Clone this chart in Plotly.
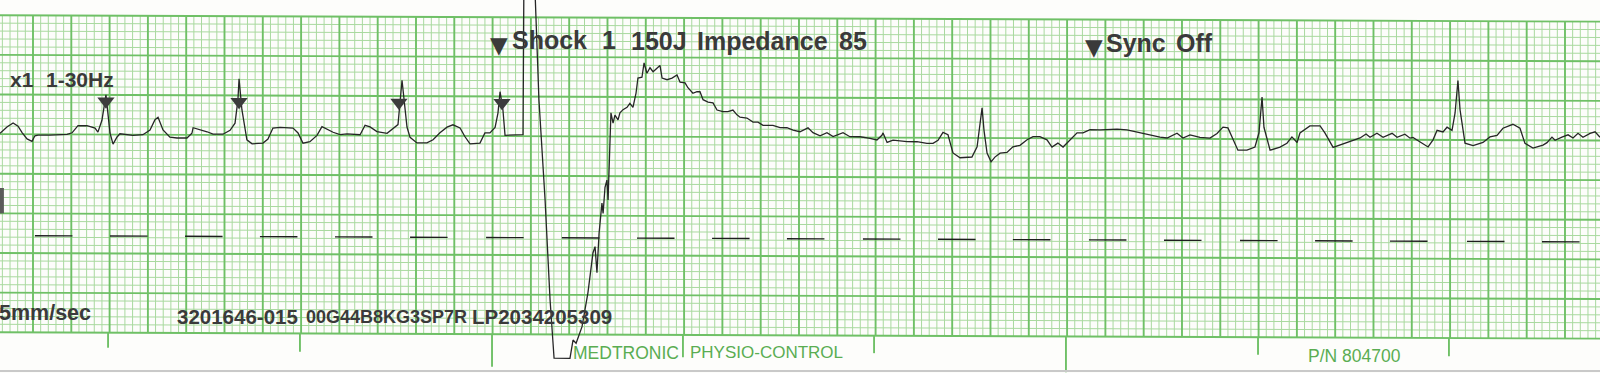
import plotly.graph_objects as go

W, H = 1600, 373

# ---------------- data read from the strip ----------------
# ECG samples (time in s at 25 mm/s, amplitude in mV, 10 mm/mV, baseline = 0)
ecg_pre_shock = [
    (-0.172, 0.01), (-0.136, 0.09), (-0.104, 0.14), (-0.078, 0.10), (-0.057, 0.02),
    (-0.031, -0.06), (-0.005, -0.09), (0.010, -0.02), (0.026, -0.01), (0.089, -0.01),
    (0.178, 0.00), (0.204, 0.02), (0.235, 0.11), (0.282, 0.11), (0.324, 0.08),
    (0.339, 0.03), (0.360, 0.18), (0.381, 0.50), (0.402, 0.02), (0.418, -0.12),
    (0.439, -0.03), (0.454, 0.01), (0.522, -0.01), (0.574, 0.00), (0.611, 0.06),
    (0.637, 0.19), (0.653, 0.22), (0.679, 0.06), (0.715, -0.03), (0.752, -0.04),
    (0.804, -0.04), (0.830, 0.02), (0.836, 0.09), (0.872, 0.07), (0.909, 0.04),
    (0.940, 0.01), (0.992, 0.01), (1.029, 0.06), (1.055, 0.15), (1.070, 0.44),
    (1.076, 0.71), (1.091, 0.32), (1.117, -0.06), (1.144, -0.11), (1.201, -0.10),
    (1.227, -0.05), (1.253, 0.09), (1.290, 0.10), (1.358, 0.09), (1.384, 0.03),
    (1.410, -0.10), (1.446, -0.08), (1.483, 0.00), (1.509, 0.11), (1.540, 0.07),
    (1.567, 0.04), (1.603, 0.01), (1.640, 0.02), (1.708, 0.01), (1.734, 0.13),
    (1.760, 0.11), (1.796, 0.05), (1.849, 0.03), (1.906, 0.14), (1.927, 0.70),
    (1.943, 0.32), (1.953, 0.11), (1.969, -0.02), (2.005, -0.09), (2.057, -0.09),
    (2.089, -0.05), (2.125, 0.04), (2.162, 0.11), (2.193, 0.14), (2.230, 0.10),
    (2.256, -0.01), (2.282, -0.10), (2.334, -0.09), (2.360, 0.04), (2.386, 0.04),
    (2.413, 0.11), (2.428, 0.29), (2.439, 0.56), (2.454, 0.33), (2.465, 0.01),
    (2.559, 0.02),
]
ecg_shock = [
    (2.564, 2.20), (2.616, 2.20), (2.642, 0.46), (2.674, -0.80), (2.700, -2.06),
    (2.721, -2.80), (2.804, -2.80), (2.820, -2.57), (2.836, -2.61), (2.867, -2.40),
    (2.898, -1.97), (2.924, -1.47), (2.935, -1.39), (2.945, -1.72), (2.956, -1.22),
    (2.971, -0.84), (2.977, -0.97), (2.987, -0.64), (2.997, -0.55), (3.003, -0.80),
    (3.013, -0.04), (3.018, 0.30),
]
ecg_post_shock = [
    (3.029, 0.17), (3.039, 0.27), (3.055, 0.21), (3.065, 0.30), (3.081, 0.34),
    (3.102, 0.37), (3.117, 0.42), (3.133, 0.37), (3.149, 0.55), (3.159, 0.74),
    (3.180, 0.75), (3.191, 0.93), (3.206, 0.80), (3.222, 0.87), (3.238, 0.82),
    (3.258, 0.87), (3.274, 0.90), (3.285, 0.74), (3.311, 0.72), (3.337, 0.74),
    (3.363, 0.78), (3.379, 0.69), (3.405, 0.68), (3.420, 0.62), (3.446, 0.55),
    (3.467, 0.57), (3.483, 0.57), (3.499, 0.47), (3.525, 0.44), (3.551, 0.43),
    (3.572, 0.34), (3.603, 0.32), (3.629, 0.32), (3.655, 0.34), (3.676, 0.28),
    (3.692, 0.25), (3.728, 0.24), (3.760, 0.19), (3.786, 0.19), (3.812, 0.15),
    (3.864, 0.15), (3.901, 0.12), (3.937, 0.12), (3.969, 0.09), (4.005, 0.07),
    (4.047, 0.12), (4.073, 0.06), (4.110, 0.02), (4.146, 0.06), (4.178, 0.01),
    (4.230, 0.06), (4.266, 0.01), (4.319, 0.01), (4.371, -0.01), (4.407, -0.03),
    (4.433, 0.03), (4.439, 0.06), (4.460, -0.06), (4.491, -0.03), (4.564, -0.05),
    (4.616, -0.05), (4.668, -0.07), (4.700, -0.07), (4.726, -0.03), (4.752, 0.07),
    (4.778, 0.04), (4.804, -0.19), (4.841, -0.25), (4.877, -0.24), (4.903, -0.24),
    (4.930, -0.11), (4.945, 0.14), (4.956, 0.38), (4.966, 0.10), (4.982, -0.19),
    (5.003, -0.30), (5.023, -0.24), (5.050, -0.19), (5.086, -0.18), (5.117, -0.11),
    (5.154, -0.09), (5.191, -0.02), (5.222, 0.02), (5.258, 0.02), (5.295, -0.02),
    (5.321, -0.11), (5.352, -0.06), (5.379, -0.11), (5.415, -0.02), (5.452, 0.07),
    (5.483, 0.07), (5.520, 0.11), (5.572, 0.11), (5.661, 0.12), (5.713, 0.11),
    (5.765, 0.08), (5.796, 0.07), (5.833, 0.05), (5.885, 0.02), (5.922, 0.01),
    (5.974, 0.07), (6.005, 0.01), (6.042, 0.05), (6.094, 0.02), (6.146, 0.01),
    (6.183, 0.07), (6.214, 0.15), (6.240, 0.14), (6.266, -0.01), (6.292, -0.14),
    (6.339, -0.14), (6.381, -0.10), (6.402, 0.08), (6.418, 0.53), (6.428, 0.15),
    (6.460, -0.14), (6.512, -0.10), (6.548, -0.05), (6.574, 0.03), (6.601, -0.04),
    (6.616, 0.08), (6.668, 0.17), (6.721, 0.17), (6.747, 0.08), (6.789, -0.10),
    (6.825, -0.07), (6.877, -0.03), (6.930, 0.02), (6.961, 0.07), (6.982, 0.03),
    (7.018, 0.08), (7.050, 0.03), (7.097, 0.08), (7.123, 0.03), (7.164, 0.07),
    (7.191, 0.02), (7.206, 0.03), (7.243, -0.03), (7.285, -0.09), (7.311, 0.00),
    (7.332, 0.12), (7.363, 0.10), (7.384, 0.16), (7.410, 0.12), (7.426, 0.34),
    (7.441, 0.75), (7.452, 0.38), (7.478, -0.04), (7.520, -0.07), (7.572, -0.03),
    (7.608, 0.04), (7.645, 0.06), (7.676, 0.15), (7.728, 0.20), (7.765, 0.15),
    (7.791, -0.04), (7.833, -0.10), (7.885, -0.06), (7.906, -0.03), (7.932, 0.04),
    (7.948, 0.00), (7.984, 0.04), (8.016, 0.07), (8.042, 0.03), (8.068, 0.09),
    (8.094, 0.04), (8.131, 0.09), (8.157, 0.11), (8.183, 0.04),
]

# sync markers (▼) above detected R waves
sync_t = [0.381, 1.076, 1.911, 2.449]
sync_mv = 0.42

# dashed reference line under the trace
dash_start_t = [0.010, 0.402, 0.794, 1.185, 1.577, 1.969, 2.366, 2.762, 3.154, 3.546,
                3.937, 4.334, 4.726, 5.117, 5.514, 5.906, 6.303, 6.695, 7.086, 7.488, 7.880]
dash_len_s = 0.196
dash_mv = -1.28

# one-second tick marks below the grid (time, lower end in mV)
tick_t = [0.392, 1.394, 2.397, 3.394, 4.392, 5.394, 6.397, 7.394]
tick_end_mv = [-2.69, -2.73, -2.91, -2.78, -2.72, -2.95, -2.72, -2.73]

# remnant of the calibration mark at the left edge
cal_mark_t = [-0.165, -0.165]
cal_mark_mv = [-0.68, -1.00]

# ---------------- paper geometry ----------------
T_MIN, T_MAX = -0.1723, 8.1828
MV_MIN, MV_MAX = -3.0145, 1.6921
GRID_LO, GRID_HI = -2.5, 1.5
SKEW = 0.00967  # slight rotation of the scanned strip (mV per s)


def sk(t, v):
    return v - SKEW * (t - T_MIN)


def grid_trace(ts, vs, color, width):
    xs, ys = [], []
    for t in ts:
        xs += [t, t, None]
        ys += [sk(t, GRID_LO), sk(t, GRID_HI), None]
    x0, x1 = T_MIN - 0.05, T_MAX + 0.05
    for v in vs:
        xs += [x0, x1, None]
        ys += [sk(x0, v), sk(x1, v), None]
    return go.Scatter(x=xs, y=ys, mode="lines", hoverinfo="skip",
                      line=dict(color=color, width=width))


minor_t = [round(k * 0.04, 4) for k in range(-5, 206) if k % 5 != 0]
minor_v = [round(GRID_LO + 0.1 * j, 3) for j in range(41) if j % 5 != 0]
major_t = [round(k * 0.2, 4) for k in range(-1, 42)]
major_v = [round(GRID_LO + 0.5 * j, 3) for j in range(9)]

fig = go.Figure()
fig.add_trace(grid_trace(minor_t, minor_v, "#a9d99f", 1))
fig.add_trace(grid_trace(major_t, major_v, "#6fc066", 1.9))

# tick marks below grid
tx, ty = [], []
for t, e in zip(tick_t, tick_end_mv):
    tx += [t, t, None]
    ty += [sk(t, GRID_LO), sk(t, e), None]
fig.add_trace(go.Scatter(x=tx, y=ty, mode="lines", hoverinfo="skip",
                         line=dict(color="#6fc066", width=1.9)))

# dashes
dx, dy = [], []
for t0 in dash_start_t:
    t1 = t0 + dash_len_s
    dx += [t0, t1, None]
    dy += [sk(t0, dash_mv), sk(t1, dash_mv), None]
fig.add_trace(go.Scatter(x=dx, y=dy, mode="lines", hoverinfo="skip",
                         line=dict(color="#1e1e1e", width=1.4)))

# calibration remnant
fig.add_trace(go.Scatter(x=cal_mark_t, y=[sk(t, v) for t, v in zip(cal_mark_t, cal_mark_mv)],
                         mode="lines", line=dict(color="#5a5a5a", width=5), hoverinfo="skip"))

# ECG trace
samples = ecg_pre_shock + ecg_shock + ecg_post_shock
et = [p[0] for p in samples]
ev = [sk(p[0], p[1]) for p in samples]
fig.add_trace(go.Scatter(x=et, y=ev, mode="lines",
                         line=dict(color="#262626", width=1.3)))

# sync markers
fig.add_trace(go.Scatter(x=sync_t, y=[sk(t, sync_mv) for t in sync_t], mode="markers",
                         marker=dict(symbol="triangle-down", size=15, color="#3c3c3c",
                                     line=dict(width=0))))

PRINT_FONT = "Liberation Sans, Arial, sans-serif"
DARK = "#3a3a3a"
GREEN = "#5aad52"


def txt(s, px, py, size, color=DARK, family=PRINT_FONT, weight="bold"):
    return dict(text=s, x=px / W, y=1 - py / H, xref="paper", yref="paper",
                xanchor="left", yanchor="middle", showarrow=False, borderpad=0,
                font=dict(family=family, size=size, color=color, weight=weight))


ann = [
    txt("x1", 9, 79, 21),
    txt("1-30Hz", 45, 79, 21),
    txt("▼", 489, 45, 23, family="DejaVu Sans", weight="normal"),
    txt("Shock", 511, 40.5, 25),
    txt("1", 601, 40.5, 25),
    txt("150J", 630, 41, 25),
    txt("Impedance", 696, 41, 25),
    txt("85", 838, 41, 25),
    txt("▼", 1084, 47, 23, family="DejaVu Sans", weight="normal"),
    txt("Sync", 1105, 43.5, 25),
    txt("Off", 1175, 43.5, 25),
    txt("5mm/sec", -2, 313, 21.5),
    txt("3201646-015", 176, 316.5, 20.5),
    txt("00G44B8KG3SP7R", 305, 316.5, 18),
    txt("LP2034205309", 471, 316.5, 20.5),
    txt("MEDTRONIC", 572, 352.5, 17.5, GREEN, "Liberation Sans, Arial, sans-serif", "normal"),
    txt("PHYSIO-CONTROL", 689, 352.5, 17, GREEN, "Liberation Sans, Arial, sans-serif", "normal"),
    txt("P/N 804700", 1307, 355.5, 17.5, GREEN, "Liberation Sans, Arial, sans-serif", "normal"),
]

fig.update_layout(
    width=W, height=H,
    margin=dict(l=0, r=0, t=0, b=0, pad=0),
    paper_bgcolor="#fdfdfb", plot_bgcolor="#fdfdfb",
    showlegend=False,
    xaxis=dict(range=[T_MIN, T_MAX], visible=False, fixedrange=True),
    yaxis=dict(range=[MV_MIN, MV_MAX], visible=False, fixedrange=True),
    annotations=ann,
    shapes=[dict(type="line", xref="paper", yref="paper", x0=0, x1=1,
                 y0=1 - 371 / H, y1=1 - 371 / H, line=dict(color="#c9c9c9", width=2))],
)

fig.write_html("out.html", config={"displayModeBar": False})
